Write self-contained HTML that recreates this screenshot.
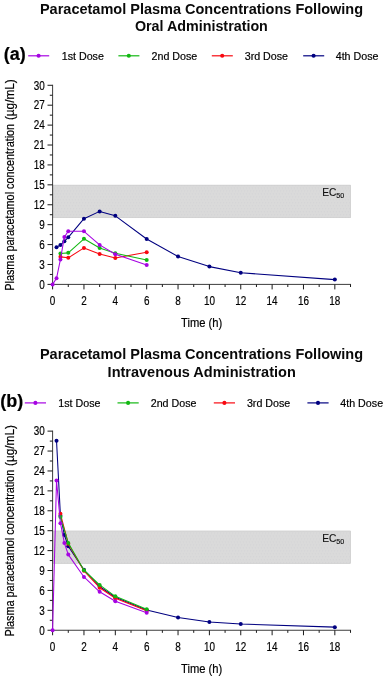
<!DOCTYPE html>
<html lang="en">
<head>
<meta charset="utf-8">
<title>Paracetamol Plasma Concentrations</title>
<style>
html,body{margin:0;padding:0;background:#fff;}
svg{display:block;}
text{font-family:"Liberation Sans",sans-serif;fill:#111;}
.ttl{font-size:14.5px;font-weight:bold;fill:#0a0a0a;}
.pan{font-size:18px;font-weight:bold;fill:#000;stroke:#000;stroke-width:0.2px;}
.leg{font-size:10.7px;fill:#000;stroke:#000;stroke-width:0.18px;}
.tk{font-size:13.5px;fill:#000;stroke:#000;stroke-width:0.2px;}
.at{font-size:13.5px;fill:#000;stroke:#000;stroke-width:0.2px;}
.ec{font-size:10.2px;fill:#111;stroke:#111;stroke-width:0.15px;}
.sub{font-size:7.1px;}
</style>
</head>
<body>
<svg width="387" height="678" viewBox="0 0 387 678">
<defs><pattern id="dots" width="3" height="5.9" patternUnits="userSpaceOnUse" x="1" y="1.5"><rect width="3" height="5.9" fill="#dadada"/><circle cx="0.8" cy="0.8" r="0.42" fill="#c8c8d0"/><circle cx="2.3" cy="3.75" r="0.42" fill="#c8c8d0"/></pattern></defs>
<rect width="387" height="678" fill="#ffffff"/>
<g>
<text class="ttl" x="201.5" y="13.6" text-anchor="middle">Paracetamol Plasma Concentrations Following</text>
<text class="ttl" style="font-size:14.3px" x="201.4" y="31.4" text-anchor="middle">Oral Administration</text>
<text class="pan" x="3.7" y="60">(a)</text>
<line x1="28.2" y1="55.8" x2="49.2" y2="55.8" stroke="#a604e2" stroke-width="1.2"/>
<circle cx="38.6" cy="55.8" r="2.05" fill="#a604e2"/>
<text class="leg" x="61.7" y="60">1st Dose</text>
<line x1="118.4" y1="55.8" x2="139.4" y2="55.8" stroke="#12b812" stroke-width="1.2"/>
<circle cx="128.8" cy="55.8" r="2.05" fill="#12b812"/>
<text class="leg" x="151.5" y="60">2nd Dose</text>
<line x1="211.8" y1="55.8" x2="232.8" y2="55.8" stroke="#f80810" stroke-width="1.2"/>
<circle cx="222.2" cy="55.8" r="2.05" fill="#f80810"/>
<text class="leg" x="244.7" y="60">3rd Dose</text>
<line x1="303.2" y1="55.8" x2="324.2" y2="55.8" stroke="#000080" stroke-width="1.2"/>
<circle cx="313.6" cy="55.8" r="2.05" fill="#000080"/>
<text class="leg" x="335.7" y="60">4th Dose</text>
<rect x="53.1" y="185.09" width="297.62" height="32.68" fill="url(#dots)" stroke="#c2c2c2" stroke-width="0.5"/>
<text class="ec" x="322.2" y="196.49">EC<tspan class="sub" dy="1.4">50</tspan></text>
<path d="M52.6 84.79V284.9M52.1 284.4H351.02" stroke="#1a1a1a" stroke-width="0.85" fill="none"/>
<path d="M47.5 284.4H52.6M49.8 274.44H52.6M47.5 264.49H52.6M49.8 254.53H52.6M47.5 244.58H52.6M49.8 234.62H52.6M47.5 224.67H52.6M49.8 214.71H52.6M47.5 204.76H52.6M49.8 194.8H52.6M47.5 184.84H52.6M49.8 174.89H52.6M47.5 164.93H52.6M49.8 154.98H52.6M47.5 145.02H52.6M49.8 135.07H52.6M47.5 125.11H52.6M49.8 115.16H52.6M47.5 105.2H52.6M49.8 95.25H52.6M47.5 85.29H52.6M52.6 284.4v5.0M68.28 284.4v2.6M83.96 284.4v5.0M99.64 284.4v2.6M115.32 284.4v5.0M131 284.4v2.6M146.68 284.4v5.0M162.36 284.4v2.6M178.04 284.4v5.0M193.72 284.4v2.6M209.4 284.4v5.0M225.08 284.4v2.6M240.76 284.4v5.0M256.44 284.4v2.6M272.12 284.4v5.0M287.8 284.4v2.6M303.48 284.4v5.0M319.16 284.4v2.6M334.84 284.4v5.0M350.52 284.4v2.6" stroke="#1a1a1a" stroke-width="1" fill="none"/>
<text class="tk" text-anchor="end" transform="translate(44.8 288.65) scale(0.735 1)">0</text>
<text class="tk" text-anchor="end" transform="translate(44.8 268.74) scale(0.735 1)">3</text>
<text class="tk" text-anchor="end" transform="translate(44.8 248.83) scale(0.735 1)">6</text>
<text class="tk" text-anchor="end" transform="translate(44.8 228.92) scale(0.735 1)">9</text>
<text class="tk" text-anchor="end" transform="translate(44.8 209.01) scale(0.735 1)">12</text>
<text class="tk" text-anchor="end" transform="translate(44.8 189.09) scale(0.735 1)">15</text>
<text class="tk" text-anchor="end" transform="translate(44.8 169.18) scale(0.735 1)">18</text>
<text class="tk" text-anchor="end" transform="translate(44.8 149.27) scale(0.735 1)">21</text>
<text class="tk" text-anchor="end" transform="translate(44.8 129.36) scale(0.735 1)">24</text>
<text class="tk" text-anchor="end" transform="translate(44.8 109.45) scale(0.735 1)">27</text>
<text class="tk" text-anchor="end" transform="translate(44.8 89.54) scale(0.735 1)">30</text>
<text class="tk" text-anchor="middle" transform="translate(52.6 304.9) scale(0.735 1)">0</text>
<text class="tk" text-anchor="middle" transform="translate(83.96 304.9) scale(0.735 1)">2</text>
<text class="tk" text-anchor="middle" transform="translate(115.32 304.9) scale(0.735 1)">4</text>
<text class="tk" text-anchor="middle" transform="translate(146.68 304.9) scale(0.735 1)">6</text>
<text class="tk" text-anchor="middle" transform="translate(178.04 304.9) scale(0.735 1)">8</text>
<text class="tk" text-anchor="middle" transform="translate(209.4 304.9) scale(0.735 1)">10</text>
<text class="tk" text-anchor="middle" transform="translate(240.76 304.9) scale(0.735 1)">12</text>
<text class="tk" text-anchor="middle" transform="translate(272.12 304.9) scale(0.735 1)">14</text>
<text class="tk" text-anchor="middle" transform="translate(303.48 304.9) scale(0.735 1)">16</text>
<text class="tk" text-anchor="middle" transform="translate(334.84 304.9) scale(0.735 1)">18</text>
<text class="at" text-anchor="middle" transform="translate(201.6 326.7) scale(0.83 1)">Time (h)</text>
<text class="at" transform="translate(14.1 290.72) rotate(-90) scale(0.8034 1)">Plasma paracetamol concentration</text>
<text class="at" transform="translate(14.1 120.1) rotate(-90) scale(0.874 1)">(µg/mL)</text>
<polyline points="56.52,247.37 60.44,244.91 64.36,241.26 68.28,237.34 83.96,218.69 99.64,211.39 115.32,215.84 146.68,239 178.04,256.52 209.4,266.61 240.76,272.79 334.84,279.62" fill="none" stroke="#000080" stroke-width="1.05" stroke-linejoin="round"/>
<circle cx="56.52" cy="247.37" r="2" fill="#000080"/>
<circle cx="60.44" cy="244.91" r="2" fill="#000080"/>
<circle cx="64.36" cy="241.26" r="2" fill="#000080"/>
<circle cx="68.28" cy="237.34" r="2" fill="#000080"/>
<circle cx="83.96" cy="218.69" r="2" fill="#000080"/>
<circle cx="99.64" cy="211.39" r="2" fill="#000080"/>
<circle cx="115.32" cy="215.84" r="2" fill="#000080"/>
<circle cx="146.68" cy="239" r="2" fill="#000080"/>
<circle cx="178.04" cy="256.52" r="2" fill="#000080"/>
<circle cx="209.4" cy="266.61" r="2" fill="#000080"/>
<circle cx="240.76" cy="272.79" r="2" fill="#000080"/>
<circle cx="334.84" cy="279.62" r="2" fill="#000080"/>
<polyline points="60.44,256.86 68.28,257.85 83.96,247.9 99.64,254 115.32,257.98 146.68,252.21" fill="none" stroke="#f80810" stroke-width="1.05" stroke-linejoin="round"/>
<circle cx="60.44" cy="256.86" r="2" fill="#f80810"/>
<circle cx="68.28" cy="257.85" r="2" fill="#f80810"/>
<circle cx="83.96" cy="247.9" r="2" fill="#f80810"/>
<circle cx="99.64" cy="254" r="2" fill="#f80810"/>
<circle cx="115.32" cy="257.98" r="2" fill="#f80810"/>
<circle cx="146.68" cy="252.21" r="2" fill="#f80810"/>
<polyline points="60.44,253.47 68.28,252.87 83.96,238.8 99.64,248.03 115.32,253.27 146.68,259.98" fill="none" stroke="#12b812" stroke-width="1.05" stroke-linejoin="round"/>
<circle cx="60.44" cy="253.47" r="2" fill="#12b812"/>
<circle cx="68.28" cy="252.87" r="2" fill="#12b812"/>
<circle cx="83.96" cy="238.8" r="2" fill="#12b812"/>
<circle cx="99.64" cy="248.03" r="2" fill="#12b812"/>
<circle cx="115.32" cy="253.27" r="2" fill="#12b812"/>
<circle cx="146.68" cy="259.98" r="2" fill="#12b812"/>
<polyline points="52.6,284.4 56.52,278.29 60.44,259.44 64.36,236.95 68.28,231.3 83.96,231.3 99.64,244.91 115.32,254.2 146.68,265.02" fill="none" stroke="#a604e2" stroke-width="1.05" stroke-linejoin="round"/>
<circle cx="52.6" cy="284.4" r="2" fill="#a604e2"/>
<circle cx="56.52" cy="278.29" r="2" fill="#a604e2"/>
<circle cx="60.44" cy="259.44" r="2" fill="#a604e2"/>
<circle cx="64.36" cy="236.95" r="2" fill="#a604e2"/>
<circle cx="68.28" cy="231.3" r="2" fill="#a604e2"/>
<circle cx="83.96" cy="231.3" r="2" fill="#a604e2"/>
<circle cx="99.64" cy="244.91" r="2" fill="#a604e2"/>
<circle cx="115.32" cy="254.2" r="2" fill="#a604e2"/>
<circle cx="146.68" cy="265.02" r="2" fill="#a604e2"/>
</g>
<g>
<text class="ttl" x="201.5" y="359.05" text-anchor="middle">Paracetamol Plasma Concentrations Following</text>
<text class="ttl" style="font-size:14.53px" x="201.7" y="376.85" text-anchor="middle">Intravenous Administration</text>
<text class="pan" x="0.3" y="407.2">(b)</text>
<line x1="24.8" y1="402.9" x2="46" y2="402.9" stroke="#a604e2" stroke-width="1.2"/>
<circle cx="35.4" cy="402.9" r="2.05" fill="#a604e2"/>
<text class="leg" x="58.3" y="407.1">1st Dose</text>
<line x1="117.5" y1="402.9" x2="138.7" y2="402.9" stroke="#12b812" stroke-width="1.2"/>
<circle cx="128.1" cy="402.9" r="2.05" fill="#12b812"/>
<text class="leg" x="150.7" y="407.1">2nd Dose</text>
<line x1="213.8" y1="402.9" x2="235" y2="402.9" stroke="#f80810" stroke-width="1.2"/>
<circle cx="224.4" cy="402.9" r="2.05" fill="#f80810"/>
<text class="leg" x="246.9" y="407.1">3rd Dose</text>
<line x1="307.4" y1="402.9" x2="328.6" y2="402.9" stroke="#000080" stroke-width="1.2"/>
<circle cx="318.0" cy="402.9" r="2.05" fill="#000080"/>
<text class="leg" x="340.3" y="407.1">4th Dose</text>
<rect x="53.1" y="530.95" width="297.62" height="32.68" fill="url(#dots)" stroke="#c2c2c2" stroke-width="0.5"/>
<text class="ec" x="322.2" y="542.35">EC<tspan class="sub" dy="1.4">50</tspan></text>
<path d="M52.6 430.64V630.75M52.1 630.25H351.02" stroke="#1a1a1a" stroke-width="0.85" fill="none"/>
<path d="M47.5 630.25H52.6M49.8 620.29H52.6M47.5 610.34H52.6M49.8 600.38H52.6M47.5 590.43H52.6M49.8 580.47H52.6M47.5 570.52H52.6M49.8 560.56H52.6M47.5 550.61H52.6M49.8 540.65H52.6M47.5 530.7H52.6M49.8 520.74H52.6M47.5 510.78H52.6M49.8 500.83H52.6M47.5 490.87H52.6M49.8 480.92H52.6M47.5 470.96H52.6M49.8 461.01H52.6M47.5 451.05H52.6M49.8 441.1H52.6M47.5 431.14H52.6M52.6 630.25v5.0M68.28 630.25v2.6M83.96 630.25v5.0M99.64 630.25v2.6M115.32 630.25v5.0M131 630.25v2.6M146.68 630.25v5.0M162.36 630.25v2.6M178.04 630.25v5.0M193.72 630.25v2.6M209.4 630.25v5.0M225.08 630.25v2.6M240.76 630.25v5.0M256.44 630.25v2.6M272.12 630.25v5.0M287.8 630.25v2.6M303.48 630.25v5.0M319.16 630.25v2.6M334.84 630.25v5.0M350.52 630.25v2.6" stroke="#1a1a1a" stroke-width="1" fill="none"/>
<text class="tk" text-anchor="end" transform="translate(44.8 634.5) scale(0.735 1)">0</text>
<text class="tk" text-anchor="end" transform="translate(44.8 614.59) scale(0.735 1)">3</text>
<text class="tk" text-anchor="end" transform="translate(44.8 594.68) scale(0.735 1)">6</text>
<text class="tk" text-anchor="end" transform="translate(44.8 574.77) scale(0.735 1)">9</text>
<text class="tk" text-anchor="end" transform="translate(44.8 554.86) scale(0.735 1)">12</text>
<text class="tk" text-anchor="end" transform="translate(44.8 534.95) scale(0.735 1)">15</text>
<text class="tk" text-anchor="end" transform="translate(44.8 515.03) scale(0.735 1)">18</text>
<text class="tk" text-anchor="end" transform="translate(44.8 495.12) scale(0.735 1)">21</text>
<text class="tk" text-anchor="end" transform="translate(44.8 475.21) scale(0.735 1)">24</text>
<text class="tk" text-anchor="end" transform="translate(44.8 455.3) scale(0.735 1)">27</text>
<text class="tk" text-anchor="end" transform="translate(44.8 435.39) scale(0.735 1)">30</text>
<text class="tk" text-anchor="middle" transform="translate(52.6 650.75) scale(0.735 1)">0</text>
<text class="tk" text-anchor="middle" transform="translate(83.96 650.75) scale(0.735 1)">2</text>
<text class="tk" text-anchor="middle" transform="translate(115.32 650.75) scale(0.735 1)">4</text>
<text class="tk" text-anchor="middle" transform="translate(146.68 650.75) scale(0.735 1)">6</text>
<text class="tk" text-anchor="middle" transform="translate(178.04 650.75) scale(0.735 1)">8</text>
<text class="tk" text-anchor="middle" transform="translate(209.4 650.75) scale(0.735 1)">10</text>
<text class="tk" text-anchor="middle" transform="translate(240.76 650.75) scale(0.735 1)">12</text>
<text class="tk" text-anchor="middle" transform="translate(272.12 650.75) scale(0.735 1)">14</text>
<text class="tk" text-anchor="middle" transform="translate(303.48 650.75) scale(0.735 1)">16</text>
<text class="tk" text-anchor="middle" transform="translate(334.84 650.75) scale(0.735 1)">18</text>
<text class="at" text-anchor="middle" transform="translate(201.6 672.55) scale(0.83 1)">Time (h)</text>
<text class="at" transform="translate(14.1 636.57) rotate(-90) scale(0.8034 1)">Plasma paracetamol concentration</text>
<text class="at" transform="translate(14.1 465.95) rotate(-90) scale(0.874 1)">(µg/mL)</text>
<polyline points="56.52,440.76 60.44,515.76 64.36,535.01 68.28,546.23 83.96,569.85 99.64,586.45 115.32,597.26 146.68,610.01 178.04,617.51 209.4,622.02 240.76,624.01 334.84,627.13" fill="none" stroke="#000080" stroke-width="1.05" stroke-linejoin="round"/>
<circle cx="56.52" cy="440.76" r="2" fill="#000080"/>
<circle cx="60.44" cy="515.76" r="2" fill="#000080"/>
<circle cx="64.36" cy="535.01" r="2" fill="#000080"/>
<circle cx="68.28" cy="546.23" r="2" fill="#000080"/>
<circle cx="83.96" cy="569.85" r="2" fill="#000080"/>
<circle cx="99.64" cy="586.45" r="2" fill="#000080"/>
<circle cx="115.32" cy="597.26" r="2" fill="#000080"/>
<circle cx="146.68" cy="610.01" r="2" fill="#000080"/>
<circle cx="178.04" cy="617.51" r="2" fill="#000080"/>
<circle cx="209.4" cy="622.02" r="2" fill="#000080"/>
<circle cx="240.76" cy="624.01" r="2" fill="#000080"/>
<circle cx="334.84" cy="627.13" r="2" fill="#000080"/>
<polyline points="60.44,513.77 68.28,543.64 83.96,570.85 99.64,587.71 115.32,598.19 146.68,610.67" fill="none" stroke="#f80810" stroke-width="1.05" stroke-linejoin="round"/>
<circle cx="60.44" cy="513.77" r="2" fill="#f80810"/>
<circle cx="68.28" cy="543.64" r="2" fill="#f80810"/>
<circle cx="83.96" cy="570.85" r="2" fill="#f80810"/>
<circle cx="99.64" cy="587.71" r="2" fill="#f80810"/>
<circle cx="115.32" cy="598.19" r="2" fill="#f80810"/>
<circle cx="146.68" cy="610.67" r="2" fill="#f80810"/>
<polyline points="60.44,517.09 68.28,542.97 83.96,570.25 99.64,584.92 115.32,596.33 146.68,609.34" fill="none" stroke="#12b812" stroke-width="1.05" stroke-linejoin="round"/>
<circle cx="60.44" cy="517.09" r="2" fill="#12b812"/>
<circle cx="68.28" cy="542.97" r="2" fill="#12b812"/>
<circle cx="83.96" cy="570.25" r="2" fill="#12b812"/>
<circle cx="99.64" cy="584.92" r="2" fill="#12b812"/>
<circle cx="115.32" cy="596.33" r="2" fill="#12b812"/>
<circle cx="146.68" cy="609.34" r="2" fill="#12b812"/>
<polyline points="52.6,630.25 56.52,480.59 60.44,523.2 64.36,542.97 68.28,554.59 83.96,576.95 99.64,591.76 115.32,601.25 146.68,612.66" fill="none" stroke="#a604e2" stroke-width="1.05" stroke-linejoin="round"/>
<circle cx="52.6" cy="630.25" r="2" fill="#a604e2"/>
<circle cx="56.52" cy="480.59" r="2" fill="#a604e2"/>
<circle cx="60.44" cy="523.2" r="2" fill="#a604e2"/>
<circle cx="64.36" cy="542.97" r="2" fill="#a604e2"/>
<circle cx="68.28" cy="554.59" r="2" fill="#a604e2"/>
<circle cx="83.96" cy="576.95" r="2" fill="#a604e2"/>
<circle cx="99.64" cy="591.76" r="2" fill="#a604e2"/>
<circle cx="115.32" cy="601.25" r="2" fill="#a604e2"/>
<circle cx="146.68" cy="612.66" r="2" fill="#a604e2"/>
</g>
</svg>
</body>
</html>
